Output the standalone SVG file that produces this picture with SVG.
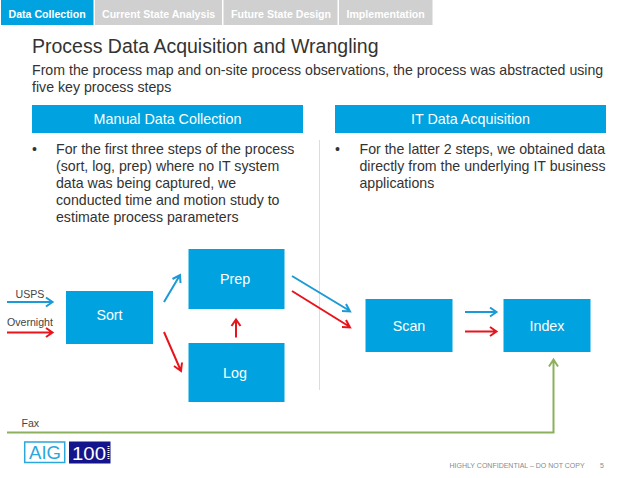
<svg xmlns="http://www.w3.org/2000/svg" width="638" height="478" viewBox="0 0 638 478">
<style>
text{font-family:"Liberation Sans",Arial,sans-serif}
.tab{fill:#d0d0d0}.tabt{font-size:10.6px;font-weight:700;fill:#fff}
.t{font-size:14.17px;fill:#333}
.box{fill:#00a3e0}
.bt{font-size:14.3px;fill:#fff;text-anchor:middle}
.lab{font-size:10.6px;fill:#444}
.c{fill:none;stroke-width:2}
.blue{stroke:#1b9ad6}.red{stroke:#e8141c}.green{stroke:#8cb05e;stroke-width:2}
</style>
<rect width="638" height="478" fill="#fff"/>
<g id="tabs">
<rect x="1" y="0" width="92.500" height="25" fill="#00a3e0"/>
<text x="8.500" y="17.500" class="tabt">Data Collection</text>
<rect x="95" y="0" width="127" height="25" class="tab"/>
<text x="102" y="17.500" class="tabt">Current State Analysis</text>
<rect x="223.500" y="0" width="114" height="25" class="tab"/>
<text x="231" y="17.500" class="tabt">Future State Design</text>
<rect x="339" y="0" width="93.500" height="25" class="tab"/>
<text x="346.500" y="17.500" class="tabt">Implementation</text>
</g>
<text x="32" y="52.500" font-size="19.500" fill="#333">Process Data Acquisition and Wrangling</text>
<text x="32" y="75" class="t">From the process map and on-site process observations, the process was abstracted using</text>
<text x="32" y="92" class="t">five key process steps</text>
<g id="manual-header"><rect x="32" y="105" width="271" height="28" class="box"/><text x="167.500" y="124" class="bt">Manual Data Collection</text></g>
<g id="it-header"><rect x="335" y="105" width="271" height="28" class="box"/><text x="470.500" y="124" class="bt">IT Data Acquisition</text></g>
<g class="t">
<text x="32" y="154">•</text>
<text x="56" y="154">For the first three steps of the process</text>
<text x="56" y="171">(sort, log, prep) where no IT system</text>
<text x="56" y="188">data was being captured, we</text>
<text x="56" y="205">conducted time and motion study to</text>
<text x="56" y="222">estimate process parameters</text>
<text x="335" y="154">•</text>
<text x="359.500" y="154">For the latter 2 steps, we obtained data</text>
<text x="359.500" y="171">directly from the underlying IT business</text>
<text x="359.500" y="188">applications</text>
</g>
<line x1="319.500" y1="140" x2="319.500" y2="390" stroke="#dcdcdc" stroke-width="1"/>
<g id="sort"><rect x="66" y="291" width="87" height="53" class="box"/><text x="109.500" y="320" class="bt">Sort</text></g>
<g id="prep"><rect x="188.500" y="249" width="96" height="60" class="box"/><text x="235" y="284" class="bt">Prep</text></g>
<g id="log"><rect x="188.500" y="343" width="96" height="59" class="box"/><text x="235" y="378" class="bt">Log</text></g>
<g id="scan"><rect x="365.500" y="299" width="87" height="53" class="box"/><text x="409" y="331" class="bt">Scan</text></g>
<g id="index"><rect x="503.500" y="299" width="87" height="53" class="box"/><text x="547" y="331" class="bt">Index</text></g>
<g id="connectors">
<path class="c blue" d="M7 302H52M46 297.500L52.500 302L46 306.500"/>
<path class="c red" d="M7 332.500H52M46 328L52.500 332.500L46 337"/>
<path class="c blue" d="M164 302L180 275M172.500 279L180 275L180.500 283"/>
<path class="c red" d="M164 332L181 371M174 366L181 371L182 362.500"/>
<path class="c red" d="M236 337.500V320M231.500 326L236 319.500L240.500 326"/>
<path class="c blue" d="M292 276L350 311M342 311L350 311.500L346 304"/>
<path class="c red" d="M292 291L350 327M342 327L350 327.500L346 320"/>
<path class="c blue" d="M465 312H496M490 307.500L496.500 312L490 316.500"/>
<path class="c red" d="M465 331.500H496M490 327L496.500 331.500L490 336"/>
<path class="c green" d="M7 432.500H553.500V360M549 366.500L553.500 359.500L558 366.500"/>
</g>
<text x="15.500" y="298" class="lab">USPS</text>
<text x="7" y="326" class="lab">Overnight</text>
<text x="21.500" y="427" class="lab">Fax</text>
<g id="logo">
<rect x="24.700" y="442" width="40" height="20.500" fill="#fff" stroke="#2aa7dc" stroke-width="1.500"/>
<text x="29" y="459" font-size="18" fill="#2aa7dc" textLength="32" lengthAdjust="spacingAndGlyphs">AIG</text>
<rect x="69" y="441.500" width="41.500" height="22" fill="#14148c"/>
<text x="72" y="459.500" font-size="19" fill="#fff" textLength="34" lengthAdjust="spacingAndGlyphs">100</text>
<line x1="108.500" y1="446" x2="108.500" y2="459" stroke="#fff" stroke-width="2" stroke-dasharray="1 1"/>
</g>
<text x="449.500" y="468" font-size="7px" fill="#8a8a8a">HIGHLY CONFIDENTIAL – DO NOT COPY</text>
<text x="600" y="468" font-size="7px" fill="#8a8a8a">5</text>
</svg>
